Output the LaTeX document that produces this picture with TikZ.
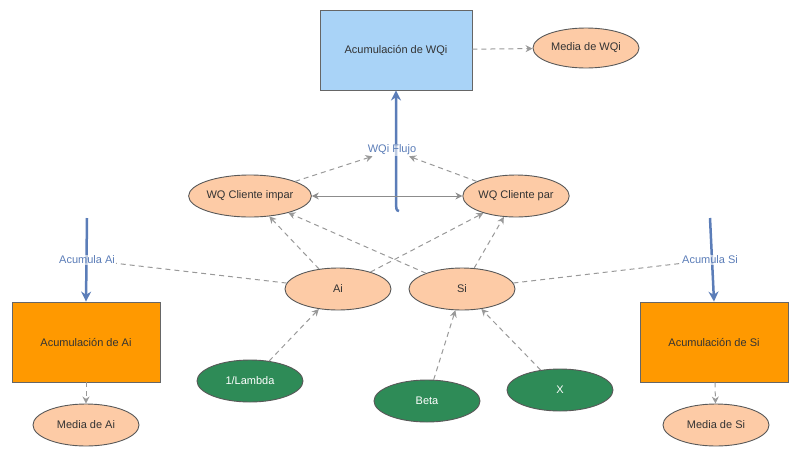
\documentclass[tikz,border=0pt]{standalone}
\usepackage{fontspec}
\setmainfont{Liberation Sans}
\usetikzlibrary{shapes.geometric,arrows.meta}
\definecolor{peach}{HTML}{FDCBA6}
\definecolor{oran}{HTML}{FF9900}
\definecolor{lblue}{HTML}{A9D3F7}
\definecolor{grn}{HTML}{2E8B57}
\definecolor{flowc}{HTML}{5B7DB8}
\definecolor{txt}{HTML}{333333}
\begin{document}
\begin{tikzpicture}[x=1pt,y=-1pt,font=\fontsize{11}{13}\selectfont,
 ell/.style={ellipse,draw=black!65,line width=0.9pt,fill=peach,minimum width=106pt,minimum height=42pt,inner sep=0pt,text=txt},
 gell/.style={ell,fill=grn,text=white},
 box/.style={rectangle,draw=black!60,line width=0.9pt,minimum width=148pt,minimum height=80pt,text=txt},
 dep/.style={draw=black!40,dashed,line width=1pt,dash pattern=on 5pt off 4pt,-{Stealth[length=7pt,width=7pt]}},
 flow/.style={draw=flowc,line width=2.5pt,-{Stealth[length=10pt,width=10pt]}},
 flab/.style={text=flowc,fill=white,fill opacity=0.6,text opacity=1,inner sep=1pt}]
\useasboundingbox (0,0) rectangle (800,464);
\node[box,fill=lblue,minimum width=152pt] (wqi) at (396,50) {Acumulación de WQi};
\node[ell,minimum width=106pt,minimum height=40pt] (mwqi) at (586,48) {Media de WQi};
\node[ell] (imp) at (250,196) {WQ Cliente impar};
\node[ell] (par) at (516,196) {WQ Cliente par};
\node[ell] (ai) at (338,289) {Ai};
\node[ell] (si) at (462,289) {Si};
\node[box,fill=oran] (acai) at (86,342) {Acumulación de Ai};
\node[box,fill=oran] (acsi) at (714,342) {Acumulación de Si};
\node[ell] (mai) at (86,425) {Media de Ai};
\node[ell] (msi) at (716,425) {Media de Si};
\node[gell] (lam) at (250,381) {1/Lambda};
\node[gell] (beta) at (427,401) {Beta};
\node[gell] (x) at (560,390) {X};
% flows
\coordinate (wqs) at (399,211);
\draw[flow] (wqs) to[out=180,in=-90] (396,204) -- (wqi.south);
\node[flab] (wqf) at (392,150) {WQi Flujo};
\coordinate (ais) at (87,218);
\coordinate (sis) at (710,218);
\draw[flow] (ais) -- (acai.north);
\draw[flow] (sis) -- (acsi.north);
\node[flab] (aif) at (87,260) {Acumula Ai};
\node[flab] (sif) at (710,260) {Acumula Si};
% dependencies
\draw[dep] (wqi) -- (mwqi);
\draw[dep] (acai) -- (mai);
\draw[dep] (acsi) -- (msi);
\draw[dep] (imp) -- (wqf);
\draw[dep] (par) -- (wqf);
\draw[dep,-] (ai) -- (aif);
\draw[dep,-] (si) -- (sif);
\draw[dep] (ai) -- (imp);
\draw[dep] (ai) -- (par);
\draw[dep] (si) -- (imp);
\draw[dep] (si) -- (par);
\draw[dep] (lam) -- (ai);
\draw[dep] (beta) -- (si);
\draw[dep] (x) -- (si);
\draw[black!45,line width=1pt,{Stealth[length=7pt,width=7pt]}-{Stealth[length=7pt,width=7pt]}] (imp) -- (par);
\end{tikzpicture}
\end{document}
